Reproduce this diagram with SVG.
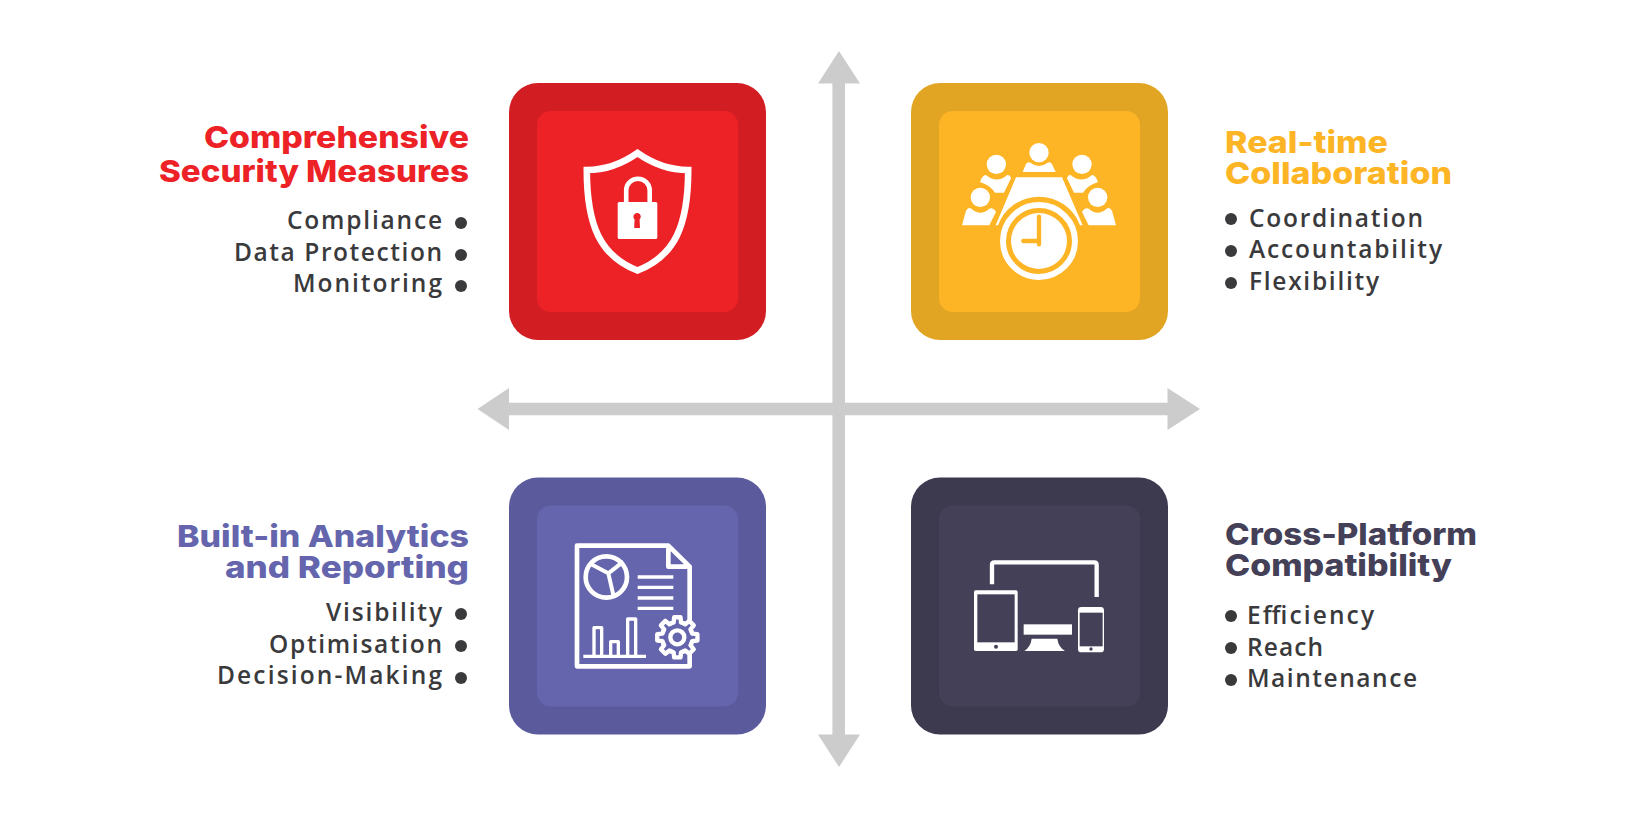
<svg xmlns="http://www.w3.org/2000/svg" xmlns:xlink="http://www.w3.org/1999/xlink" width="1638" height="818" viewBox="0 0 1638 818">
<style>
.title{font-family:"Inter","Liberation Sans",sans-serif;font-weight:800;font-size:30.5px}
.item{font-family:"Open Sans","Liberation Sans",sans-serif;font-weight:600;font-size:24.5px;fill:#3a3a3c}
.dot{fill:#3a3a3c}
.axis{fill:#cccccc}
.w{fill:#fff}
.l{fill:none;stroke:#fff;stroke-linecap:butt;stroke-linejoin:round}
</style>
<defs>
<path id="tooth" d="M-17.6 -42.5L-11.1 -44.6L-9.5 -60.3H9.5L11.1 -44.6L17.6 -42.5" fill="none" stroke="#fff" stroke-width="13" stroke-linejoin="round" stroke-linecap="round"/>
</defs>
<rect width="1638" height="818" fill="#fff"/>
<g id="connectors">
<path class="axis" d="M832.4 83.5H818L839 51L860 83.5H845V734.5H860L839 767L818 734.5H832.4Z"/>
<path class="axis" d="M509 402.7V388L477.5 409L509 430V415.2H1167.5V430L1200 409L1167.5 388V402.7Z"/>
</g>
<g id="node-security">
<rect x="509" y="83" width="257" height="257" rx="29" fill="#d21e23"/>
<rect x="537" y="111" width="201" height="201" rx="14" fill="#ed2227"/>
<path d="M637.5 153C622 164 605 170 586.8 170C586.8 225 600 256 637.5 270.5C675 256 688.2 225 688.2 170C670 170 653 164 637.5 153Z" fill="none" stroke="#fff" stroke-width="6.6" stroke-linejoin="miter"/>
<path class="l" stroke-width="4.6" d="M626.2 203V190.5A11.75 11.75 0 0 1 649.7 190.5V203"/>
<rect class="w" x="617.7" y="202" width="39.6" height="37" rx="1.5"/>
<path fill="#ed2227" d="M633.4 216.8A3.7 3.7 0 1 1 639.6 219.4L640 228H634.2L634.6 219.4A3.7 3.7 0 0 1 633.4 216.8Z"/>
<text class="title" x="204" y="148" textLength="265" lengthAdjust="spacingAndGlyphs" fill="#ed2227">Comprehensive</text>
<text class="title" x="159" y="182" textLength="310" lengthAdjust="spacingAndGlyphs" fill="#ed2227">Security Measures</text>
<text class="item" x="287" y="229" textLength="155" lengthAdjust="spacing">Compliance</text>
<text class="item" x="234" y="261" textLength="208" lengthAdjust="spacing">Data Protection</text>
<text class="item" x="293" y="292" textLength="149" lengthAdjust="spacing">Monitoring</text>
<circle class="dot" cx="461" cy="223" r="6"/><circle class="dot" cx="461" cy="255" r="6"/><circle class="dot" cx="461" cy="286" r="6"/>
</g>
<g id="node-collaboration">
<rect x="911" y="83" width="257" height="257" rx="29" fill="#e2a523"/>
<rect x="939" y="111" width="201" height="201" rx="14" fill="#fdb525"/>
<g transform="translate(900 110) scale(.33333)">
<circle class="w" cx="417" cy="128" r="29"/><circle class="w" cx="289" cy="163" r="29"/><circle class="w" cx="546" cy="163" r="29"/><circle class="w" cx="241" cy="262" r="29"/><circle class="w" cx="593" cy="262" r="29"/>
<path class="w" d="M368 186L378 162Q384 154 391 158Q417 178 443 158Q450 154 456 162L467 186Z"/>
<path class="w" d="M240 216Q248 194 258 195Q290 222 322 195Q331 195 333 205L312 248H285Q272 226 240 216Z"/>
<path class="w" d="M594 216Q586 194 576 195Q544 222 512 195Q503 195 501 205L522 248H549Q562 226 594 216Z"/>
<path class="w" d="M186 346L198 302Q205 290 214 296Q241 320 268 296Q280 292 288 306L268 346Z"/>
<path class="w" d="M648 346L636 302Q629 290 620 296Q593 320 566 296Q554 292 546 306L566 346Z"/>
<path class="w" d="M348 202H486L548 346H540A131 131 0 0 0 294 346H287Z"/>
<circle cx="417" cy="393" r="108" fill="none" stroke="#fff" stroke-width="18"/>
<circle class="w" cx="417" cy="393" r="84"/>
<path d="M417 320V403M370 393H417" fill="none" stroke="#fdb525" stroke-width="13" stroke-linecap="round"/>
</g>
<text class="title" x="1225" y="153" textLength="163" lengthAdjust="spacingAndGlyphs" fill="#fdb525">Real-time</text>
<text class="title" x="1225" y="184" textLength="227" lengthAdjust="spacingAndGlyphs" fill="#fdb525">Collaboration</text>
<text class="item" x="1249" y="227" textLength="174" lengthAdjust="spacing">Coordination</text>
<text class="item" x="1249" y="258" textLength="193" lengthAdjust="spacing">Accountability</text>
<text class="item" x="1249" y="290" textLength="130" lengthAdjust="spacing">Flexibility</text>
<circle class="dot" cx="1231" cy="219" r="6"/><circle class="dot" cx="1231" cy="251" r="6"/><circle class="dot" cx="1231" cy="283" r="6"/>
</g>
<g id="node-analytics">
<rect x="509" y="477.5" width="257" height="257" rx="29" fill="#5b5a9c"/>
<rect x="537" y="505.5" width="201" height="201" rx="14" fill="#6465ad"/>
<g transform="translate(540 520) scale(.33333)">
<path class="l" stroke-width="14" d="M449 300V140L385 77H111V439H449V398M385 80V140H449"/>
<circle class="l" cx="199" cy="171" r="62" stroke-width="14"/>
<path class="l" stroke-width="12" d="M148 130L205 160L250 125M205 160L220 225"/>
<path class="l" stroke-width="10" d="M293 171H400M293 202H400M293 234H400M293 265H400M130 409H318M162 409V323H185V409M212 409V365H235V409M263 409V297H287V409"/>
<g transform="translate(412 352)">
<use xlink:href="#tooth" href="#tooth"/><use xlink:href="#tooth" href="#tooth" transform="rotate(45)"/><use xlink:href="#tooth" href="#tooth" transform="rotate(90)"/><use xlink:href="#tooth" href="#tooth" transform="rotate(135)"/><use xlink:href="#tooth" href="#tooth" transform="rotate(180)"/><use xlink:href="#tooth" href="#tooth" transform="rotate(225)"/><use xlink:href="#tooth" href="#tooth" transform="rotate(270)"/><use xlink:href="#tooth" href="#tooth" transform="rotate(315)"/>
<circle class="l" r="21" stroke-width="13"/>
</g>
</g>
<text class="title" x="177" y="547" textLength="292" lengthAdjust="spacingAndGlyphs" fill="#6465ad">Built-in Analytics</text>
<text class="title" x="225" y="578" textLength="244" lengthAdjust="spacingAndGlyphs" fill="#6465ad">and Reporting</text>
<text class="item" x="326" y="621" textLength="116" lengthAdjust="spacing">Visibility</text>
<text class="item" x="269" y="653" textLength="173" lengthAdjust="spacing">Optimisation</text>
<text class="item" x="217" y="684" textLength="225" lengthAdjust="spacing">Decision-Making</text>
<circle class="dot" cx="461" cy="614" r="6"/><circle class="dot" cx="461" cy="646" r="6"/><circle class="dot" cx="461" cy="678" r="6"/>
</g>
<g id="node-platform">
<rect x="911" y="477.5" width="257" height="257" rx="29" fill="#3d3a50"/>
<rect x="939" y="505.5" width="201" height="201" rx="14" fill="#444058"/>
<g transform="translate(940 540) scale(.33333)">
<path class="l" stroke-width="13" d="M156 133V74Q156 67 163 67H463Q470 67 470 74V171"/>
<rect class="w" x="102" y="151" width="131" height="182" rx="5"/>
<rect x="112" y="163" width="112" height="144" fill="#444058"/>
<circle cx="168" cy="320" r="6" fill="#444058"/>
<rect class="w" x="251" y="253" width="145" height="31"/>
<path class="w" d="M275 296H352Q355 320 375 333H253Q272 320 275 296Z"/>
<rect class="w" x="414" y="201" width="78" height="136" rx="10"/>
<rect x="419" y="218" width="69" height="101" fill="#444058"/>
<circle cx="453" cy="327" r="5" fill="#444058"/>
</g>
<text class="title" x="1225" y="545" textLength="252" lengthAdjust="spacingAndGlyphs" fill="#444058">Cross-Platform</text>
<text class="title" x="1225" y="576" textLength="227" lengthAdjust="spacingAndGlyphs" fill="#444058">Compatibility</text>
<text class="item" x="1247" y="624" textLength="127" lengthAdjust="spacing">Efficiency</text>
<text class="item" x="1247" y="656" textLength="76" lengthAdjust="spacing">Reach</text>
<text class="item" x="1247" y="687" textLength="170" lengthAdjust="spacing">Maintenance</text>
<circle class="dot" cx="1231" cy="616" r="6"/><circle class="dot" cx="1231" cy="648" r="6"/><circle class="dot" cx="1231" cy="680" r="6"/>
</g>
</svg>
